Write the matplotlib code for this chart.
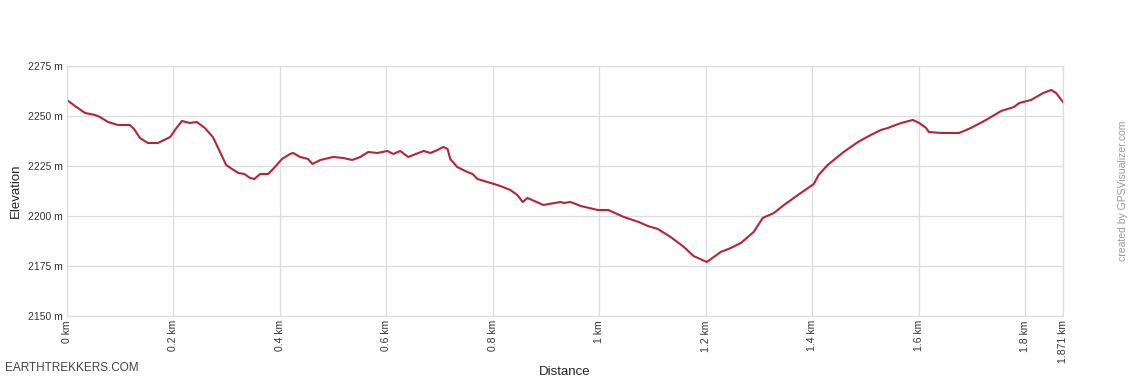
import numpy as np
import matplotlib
matplotlib.use("Agg")
import matplotlib.pyplot as plt

plt.rcParams['font.family'] = ['Liberation Sans', 'DejaVu Sans']

#=====================data===============
dist_km = [0.000, 0.015, 0.034, 0.053, 0.062, 0.077, 0.096, 0.118, 0.126, 0.137,
           0.152, 0.171, 0.194, 0.203, 0.216, 0.231, 0.244, 0.259, 0.274, 0.284,
           0.292, 0.299, 0.310, 0.322, 0.333, 0.344, 0.352, 0.363, 0.378, 0.389,
           0.404, 0.419, 0.425, 0.438, 0.453, 0.461, 0.476, 0.500, 0.519, 0.536,
           0.551, 0.566, 0.583, 0.602, 0.613, 0.626, 0.641, 0.670, 0.683, 0.696,
           0.707, 0.715, 0.720, 0.733, 0.752, 0.762, 0.771, 0.796, 0.814, 0.833,
           0.846, 0.856, 0.865, 0.895, 0.927, 0.933, 0.946, 0.965, 0.997, 1.017,
           1.046, 1.074, 1.091, 1.110, 1.134, 1.159, 1.177, 1.202, 1.228, 1.247,
           1.266, 1.290, 1.307, 1.328, 1.347, 1.373, 1.403, 1.412, 1.429, 1.459,
           1.486, 1.510, 1.529, 1.542, 1.567, 1.589, 1.601, 1.614, 1.619, 1.642,
           1.676, 1.698, 1.723, 1.755, 1.779, 1.789, 1.811, 1.834, 1.849, 1.858,
           1.871]
elev_m = [2258, 2255, 2251.5, 2250.5, 2249.5, 2247, 2245.5, 2245.5, 2243.5, 2239,
          2236.5, 2236.5, 2239.5, 2243, 2247.5, 2246.5, 2247, 2244, 2239.5, 2234,
          2229.5, 2225.5, 2223.5, 2221.5, 2221, 2219, 2218.5, 2221, 2221, 2224,
          2228.5, 2231, 2231.5, 2229.5, 2228.5, 2226, 2228, 2229.5, 2229, 2228,
          2229.5, 2232, 2231.5, 2232.5, 2231, 2232.5, 2229.5, 2232.5, 2231.5, 2233,
          2234.5, 2233.5, 2228.5, 2224.5, 2222, 2221, 2218.5, 2216.5, 2215, 2213,
          2210.5, 2207, 2209, 2205.5, 2207, 2206.5, 2207, 2205, 2203, 2203,
          2199.5, 2197, 2195, 2193.5, 2189.5, 2184.5, 2180, 2177, 2182, 2184,
          2186.5, 2192, 2199, 2201.5, 2205.5, 2210.5, 2216, 2220.5, 2225.5, 2232,
          2237, 2240.5, 2243, 2244, 2246.5, 2248, 2246.5, 2244, 2242, 2241.5,
          2241.5, 2244, 2247.5, 2252.5, 2254.5, 2256.5, 2258, 2261.5, 2263, 2261.5,
          2257]

x_ticks = [0, 0.2, 0.4, 0.6, 0.8, 1.0, 1.2, 1.4, 1.6, 1.8, 1.871]
x_labels = ['0 km', '0.2 km', '0.4 km', '0.6 km', '0.8 km', '1 km', '1.2 km',
            '1.4 km', '1.6 km', '1.8 km', '1.871 km']
y_ticks = [2150, 2175, 2200, 2225, 2250, 2275]

#====================Plot=======================
fig = plt.figure(figsize=(11.29, 3.82), dpi=100)
ax = fig.add_axes([0.0593, 0.1728, 0.8822, 0.6545])

ax.plot(dist_km, elev_m, color='#b42535', linewidth=1.5, solid_joinstyle='round')

ax.set_xlim(0, 1.871)
ax.set_ylim(2150, 2275)
ax.set_xticks(x_ticks)
ax.set_xticklabels(x_labels, rotation=90, fontsize=7.5, color='#333333')
ax.set_yticks(y_ticks)
ax.set_yticklabels([str(v) + ' m' for v in y_ticks], fontsize=7.5, color='#333333')
ax.tick_params(length=0, pad=3)
ax.grid(True, color='#dcdcdc', linewidth=0.9)
ax.set_axisbelow(True)
for s in ax.spines.values():
    s.set_color('#dcdcdc')
    s.set_linewidth(0.9)

ax.set_xlabel('Distance', fontsize=9.5, color='#222222', labelpad=2)
ax.set_ylabel('Elevation', fontsize=9.5, color='#222222', labelpad=4)

fig.text(0.004, 0.03, 'EARTHTREKKERS.COM', fontsize=8.5, color='#444444')
fig.text(0.995, 0.5, 'created by GPSVisualizer.com', rotation=90, fontsize=7.5,
         color='#999999', ha='center', va='center')

plt.savefig('out.png', dpi=100)
